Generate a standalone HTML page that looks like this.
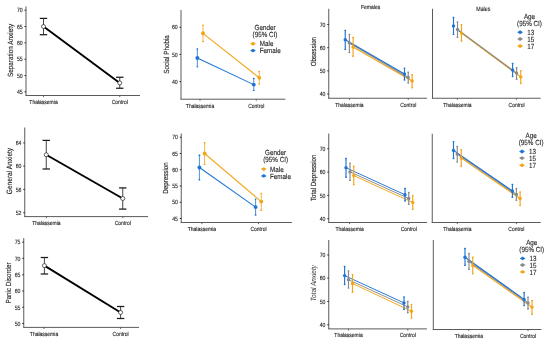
<!DOCTYPE html>
<html><head><meta charset="utf-8"><style>
html,body{margin:0;padding:0;background:#fff;}
body{width:550px;height:344px;overflow:hidden;}
svg{display:block;font-family:"Liberation Sans", sans-serif;filter:blur(0.3px);text-rendering:geometricPrecision;}
</style></head><body>
<svg width="550" height="344" viewBox="0 0 550 344">
<rect width="550" height="344" fill="#fff"/>
<line x1="26" y1="6.4" x2="26" y2="95.5" stroke="#484848" stroke-width="0.9"/>
<line x1="25.45" y1="95.5" x2="140" y2="95.5" stroke="#484848" stroke-width="0.9"/>
<line x1="24.5" y1="10.2" x2="26" y2="10.2" stroke="#111" stroke-width="0.9"/>
<text x="0" y="0" font-size="49.088" text-anchor="end" fill="#1e1e1e" stroke="#1e1e1e" stroke-width="1.040" transform="translate(22.70 12.41) scale(0.10593 0.12500)">70</text>
<line x1="24.5" y1="26.5" x2="26" y2="26.5" stroke="#111" stroke-width="0.9"/>
<text x="0" y="0" font-size="49.088" text-anchor="end" fill="#1e1e1e" stroke="#1e1e1e" stroke-width="1.040" transform="translate(22.70 28.71) scale(0.10593 0.12500)">65</text>
<line x1="24.5" y1="42.8" x2="26" y2="42.8" stroke="#111" stroke-width="0.9"/>
<text x="0" y="0" font-size="49.088" text-anchor="end" fill="#1e1e1e" stroke="#1e1e1e" stroke-width="1.040" transform="translate(22.70 45.01) scale(0.10593 0.12500)">60</text>
<line x1="24.5" y1="59.2" x2="26" y2="59.2" stroke="#111" stroke-width="0.9"/>
<text x="0" y="0" font-size="49.088" text-anchor="end" fill="#1e1e1e" stroke="#1e1e1e" stroke-width="1.040" transform="translate(22.70 61.41) scale(0.10593 0.12500)">55</text>
<line x1="24.5" y1="75.5" x2="26" y2="75.5" stroke="#111" stroke-width="0.9"/>
<text x="0" y="0" font-size="49.088" text-anchor="end" fill="#1e1e1e" stroke="#1e1e1e" stroke-width="1.040" transform="translate(22.70 77.71) scale(0.10593 0.12500)">50</text>
<line x1="24.5" y1="91.8" x2="26" y2="91.8" stroke="#111" stroke-width="0.9"/>
<text x="0" y="0" font-size="49.088" text-anchor="end" fill="#1e1e1e" stroke="#1e1e1e" stroke-width="1.040" transform="translate(22.70 94.01) scale(0.10593 0.12500)">45</text>
<line x1="43.5" y1="95.5" x2="43.5" y2="97.1" stroke="#484848" stroke-width="0.8"/>
<text x="0" y="0" font-size="47.200" text-anchor="middle" fill="#1e1e1e" stroke="#1e1e1e" stroke-width="1.040" transform="translate(43.50 103.92) scale(0.10593 0.12500)">Thalassemia</text>
<line x1="119.75" y1="95.5" x2="119.75" y2="97.1" stroke="#484848" stroke-width="0.8"/>
<text x="0" y="0" font-size="47.200" text-anchor="middle" fill="#1e1e1e" stroke="#1e1e1e" stroke-width="1.040" transform="translate(119.75 103.92) scale(0.10593 0.12500)">Control</text>
<text x="0" y="0" font-size="60.416" text-anchor="middle" fill="#1e1e1e" stroke="#1e1e1e" stroke-width="1.040" transform="translate(13.09 50.40) rotate(-90) scale(0.10593 0.12500)">Separation Anxiety</text>
<line x1="43.5" y1="26.5" x2="119.75" y2="82.9" stroke="#000" stroke-width="1.9"/>
<line x1="43.5" y1="18.4" x2="43.5" y2="34.7" stroke="#222" stroke-width="0.85"/>
<line x1="39.8" y1="18.4" x2="47.2" y2="18.4" stroke="#1a1a1a" stroke-width="1.25"/>
<line x1="39.8" y1="34.7" x2="47.2" y2="34.7" stroke="#1a1a1a" stroke-width="1.25"/>
<circle cx="43.5" cy="26.5" r="2.0" fill="#fff" stroke="#222" stroke-width="0.7"/>
<line x1="119.75" y1="77.25" x2="119.75" y2="88.25" stroke="#222" stroke-width="0.85"/>
<line x1="116.05" y1="77.25" x2="123.45" y2="77.25" stroke="#1a1a1a" stroke-width="1.25"/>
<line x1="116.05" y1="88.25" x2="123.45" y2="88.25" stroke="#1a1a1a" stroke-width="1.25"/>
<circle cx="119.75" cy="82.9" r="2.0" fill="#fff" stroke="#222" stroke-width="0.7"/>
<line x1="181" y1="10" x2="181" y2="99.2" stroke="#484848" stroke-width="0.9"/>
<line x1="180.45" y1="99.2" x2="285.4" y2="99.2" stroke="#484848" stroke-width="0.9"/>
<line x1="179.5" y1="27.25" x2="181" y2="27.25" stroke="#111" stroke-width="0.9"/>
<text x="0" y="0" font-size="49.088" text-anchor="end" fill="#1e1e1e" stroke="#1e1e1e" stroke-width="1.040" transform="translate(177.70 29.46) scale(0.10593 0.12500)">60</text>
<line x1="179.5" y1="54.4" x2="181" y2="54.4" stroke="#111" stroke-width="0.9"/>
<text x="0" y="0" font-size="49.088" text-anchor="end" fill="#1e1e1e" stroke="#1e1e1e" stroke-width="1.040" transform="translate(177.70 56.61) scale(0.10593 0.12500)">50</text>
<line x1="179.5" y1="81.6" x2="181" y2="81.6" stroke="#111" stroke-width="0.9"/>
<text x="0" y="0" font-size="49.088" text-anchor="end" fill="#1e1e1e" stroke="#1e1e1e" stroke-width="1.040" transform="translate(177.70 83.81) scale(0.10593 0.12500)">40</text>
<line x1="200" y1="99.2" x2="200" y2="100.8" stroke="#484848" stroke-width="0.8"/>
<text x="0" y="0" font-size="47.200" text-anchor="middle" fill="#1e1e1e" stroke="#1e1e1e" stroke-width="1.040" transform="translate(200.00 107.62) scale(0.10593 0.12500)">Thalassemia</text>
<line x1="256.25" y1="99.2" x2="256.25" y2="100.8" stroke="#484848" stroke-width="0.8"/>
<text x="0" y="0" font-size="47.200" text-anchor="middle" fill="#1e1e1e" stroke="#1e1e1e" stroke-width="1.040" transform="translate(256.25 107.62) scale(0.10593 0.12500)">Control</text>
<text x="0" y="0" font-size="59.472" text-anchor="middle" fill="#1e1e1e" stroke="#1e1e1e" stroke-width="1.040" transform="translate(168.85 54.40) rotate(-90) scale(0.10593 0.12500)">Social Phobia</text>
<line x1="197.35" y1="58" x2="253.75" y2="84.6" stroke="#1f74d4" stroke-width="1.05"/>
<line x1="203" y1="33.3" x2="259.25" y2="77.75" stroke="#f2a516" stroke-width="1.05"/>
<line x1="197.35" y1="49" x2="197.35" y2="66.8" stroke="#1f74d4" stroke-width="0.8"/>
<line x1="197.04999999999998" y1="49" x2="197.65" y2="49" stroke="#1f74d4" stroke-width="1.3" stroke-linecap="round"/>
<line x1="197.04999999999998" y1="66.8" x2="197.65" y2="66.8" stroke="#1f74d4" stroke-width="1.3" stroke-linecap="round"/>
<circle cx="197.35" cy="58" r="1.95" fill="#1f74d4"/>
<line x1="253.75" y1="78.5" x2="253.75" y2="90.4" stroke="#1f74d4" stroke-width="0.8"/>
<line x1="253.45" y1="78.5" x2="254.05" y2="78.5" stroke="#1f74d4" stroke-width="1.3" stroke-linecap="round"/>
<line x1="253.45" y1="90.4" x2="254.05" y2="90.4" stroke="#1f74d4" stroke-width="1.3" stroke-linecap="round"/>
<circle cx="253.75" cy="84.6" r="1.95" fill="#1f74d4"/>
<line x1="203" y1="25.2" x2="203" y2="41.5" stroke="#f2a516" stroke-width="0.8"/>
<line x1="202.7" y1="25.2" x2="203.3" y2="25.2" stroke="#f2a516" stroke-width="1.3" stroke-linecap="round"/>
<line x1="202.7" y1="41.5" x2="203.3" y2="41.5" stroke="#f2a516" stroke-width="1.3" stroke-linecap="round"/>
<circle cx="203" cy="33.3" r="1.95" fill="#f2a516"/>
<line x1="259.25" y1="71.5" x2="259.25" y2="84.1" stroke="#f2a516" stroke-width="0.8"/>
<line x1="258.95" y1="71.5" x2="259.55" y2="71.5" stroke="#f2a516" stroke-width="1.3" stroke-linecap="round"/>
<line x1="258.95" y1="84.1" x2="259.55" y2="84.1" stroke="#f2a516" stroke-width="1.3" stroke-linecap="round"/>
<circle cx="259.25" cy="77.75" r="1.95" fill="#f2a516"/>
<text x="0" y="0" font-size="59.472" text-anchor="middle" fill="#1e1e1e" stroke="#1e1e1e" stroke-width="1.040" transform="translate(265.00 29.58) scale(0.10593 0.12500)">Gender</text>
<text x="0" y="0" font-size="59.472" text-anchor="middle" fill="#1e1e1e" stroke="#1e1e1e" stroke-width="1.040" transform="translate(265.00 36.68) scale(0.10593 0.12500)">(95% CI)</text>
<path d="M250.1 43.75 L253 41.85 L255.9 43.75 L253 45.65 Z" fill="#f2a516"/>
<text x="0" y="0" font-size="59.472" text-anchor="start" fill="#1e1e1e" stroke="#1e1e1e" stroke-width="1.040" transform="translate(259.75 46.43) scale(0.10593 0.12500)">Male</text>
<path d="M250.1 50.6 L253 48.7 L255.9 50.6 L253 52.5 Z" fill="#1f74d4"/>
<text x="0" y="0" font-size="59.472" text-anchor="start" fill="#1e1e1e" stroke="#1e1e1e" stroke-width="1.040" transform="translate(259.75 53.28) scale(0.10593 0.12500)">Female</text>
<line x1="328.75" y1="8.75" x2="328.75" y2="98.25" stroke="#484848" stroke-width="0.9"/>
<line x1="328.2" y1="98.25" x2="426.9" y2="98.25" stroke="#484848" stroke-width="0.9"/>
<line x1="327.25" y1="24.5" x2="328.75" y2="24.5" stroke="#111" stroke-width="0.9"/>
<text x="0" y="0" font-size="49.088" text-anchor="end" fill="#1e1e1e" stroke="#1e1e1e" stroke-width="1.040" transform="translate(325.45 26.71) scale(0.10593 0.12500)">70</text>
<line x1="327.25" y1="47.7" x2="328.75" y2="47.7" stroke="#111" stroke-width="0.9"/>
<text x="0" y="0" font-size="49.088" text-anchor="end" fill="#1e1e1e" stroke="#1e1e1e" stroke-width="1.040" transform="translate(325.45 49.91) scale(0.10593 0.12500)">60</text>
<line x1="327.25" y1="70.9" x2="328.75" y2="70.9" stroke="#111" stroke-width="0.9"/>
<text x="0" y="0" font-size="49.088" text-anchor="end" fill="#1e1e1e" stroke="#1e1e1e" stroke-width="1.040" transform="translate(325.45 73.11) scale(0.10593 0.12500)">50</text>
<line x1="327.25" y1="94.1" x2="328.75" y2="94.1" stroke="#111" stroke-width="0.9"/>
<text x="0" y="0" font-size="49.088" text-anchor="end" fill="#1e1e1e" stroke="#1e1e1e" stroke-width="1.040" transform="translate(325.45 96.31) scale(0.10593 0.12500)">40</text>
<line x1="349.4" y1="98.25" x2="349.4" y2="99.85" stroke="#484848" stroke-width="0.8"/>
<text x="0" y="0" font-size="47.200" text-anchor="middle" fill="#1e1e1e" stroke="#1e1e1e" stroke-width="1.040" transform="translate(349.40 106.67) scale(0.10593 0.12500)">Thalassemia</text>
<line x1="408.25" y1="98.25" x2="408.25" y2="99.85" stroke="#484848" stroke-width="0.8"/>
<text x="0" y="0" font-size="47.200" text-anchor="middle" fill="#1e1e1e" stroke="#1e1e1e" stroke-width="1.040" transform="translate(408.25 106.67) scale(0.10593 0.12500)">Control</text>
<text x="0" y="0" font-size="58.528" text-anchor="middle" fill="#1e1e1e" stroke="#1e1e1e" stroke-width="1.040" transform="translate(315.61 51.60) rotate(-90) scale(0.10593 0.12500)">Obsession</text>
<line x1="353.1" y1="46.9" x2="412.1" y2="81" stroke="#f2a516" stroke-width="1.15"/>
<line x1="349.4" y1="43.1" x2="408.25" y2="77.5" stroke="#8a8a8a" stroke-width="1.15"/>
<line x1="345.25" y1="39.75" x2="404.5" y2="74" stroke="#1f74d4" stroke-width="1.15"/>
<line x1="353.1" y1="37.5" x2="353.1" y2="56.25" stroke="#f2a516" stroke-width="1.15"/>
<line x1="352.8" y1="37.5" x2="353.40000000000003" y2="37.5" stroke="#f2a516" stroke-width="1.3" stroke-linecap="round"/>
<line x1="352.8" y1="56.25" x2="353.40000000000003" y2="56.25" stroke="#f2a516" stroke-width="1.3" stroke-linecap="round"/>
<circle cx="353.1" cy="46.9" r="1.7" fill="#f2a516"/>
<line x1="412.1" y1="74.6" x2="412.1" y2="87.75" stroke="#f2a516" stroke-width="1.15"/>
<line x1="411.8" y1="74.6" x2="412.40000000000003" y2="74.6" stroke="#f2a516" stroke-width="1.3" stroke-linecap="round"/>
<line x1="411.8" y1="87.75" x2="412.40000000000003" y2="87.75" stroke="#f2a516" stroke-width="1.3" stroke-linecap="round"/>
<circle cx="412.1" cy="81" r="1.7" fill="#f2a516"/>
<line x1="349.4" y1="34.4" x2="349.4" y2="52.5" stroke="#8a8a8a" stroke-width="1.15"/>
<line x1="349.09999999999997" y1="34.4" x2="349.7" y2="34.4" stroke="#8a8a8a" stroke-width="1.3" stroke-linecap="round"/>
<line x1="349.09999999999997" y1="52.5" x2="349.7" y2="52.5" stroke="#8a8a8a" stroke-width="1.3" stroke-linecap="round"/>
<circle cx="349.4" cy="43.1" r="1.7" fill="#8a8a8a"/>
<line x1="408.25" y1="72.25" x2="408.25" y2="83.1" stroke="#8a8a8a" stroke-width="1.15"/>
<line x1="407.95" y1="72.25" x2="408.55" y2="72.25" stroke="#8a8a8a" stroke-width="1.3" stroke-linecap="round"/>
<line x1="407.95" y1="83.1" x2="408.55" y2="83.1" stroke="#8a8a8a" stroke-width="1.3" stroke-linecap="round"/>
<circle cx="408.25" cy="77.5" r="1.7" fill="#8a8a8a"/>
<line x1="345.25" y1="30.4" x2="345.25" y2="49.4" stroke="#1f74d4" stroke-width="1.15"/>
<line x1="344.95" y1="30.4" x2="345.55" y2="30.4" stroke="#1f74d4" stroke-width="1.3" stroke-linecap="round"/>
<line x1="344.95" y1="49.4" x2="345.55" y2="49.4" stroke="#1f74d4" stroke-width="1.3" stroke-linecap="round"/>
<circle cx="345.25" cy="39.75" r="1.7" fill="#1f74d4"/>
<line x1="404.5" y1="68.1" x2="404.5" y2="80" stroke="#1f74d4" stroke-width="1.15"/>
<line x1="404.2" y1="68.1" x2="404.8" y2="68.1" stroke="#1f74d4" stroke-width="1.3" stroke-linecap="round"/>
<line x1="404.2" y1="80" x2="404.8" y2="80" stroke="#1f74d4" stroke-width="1.3" stroke-linecap="round"/>
<circle cx="404.5" cy="74" r="1.7" fill="#1f74d4"/>
<text x="0" y="0" font-size="47.200" text-anchor="middle" fill="#1e1e1e" stroke="#1e1e1e" stroke-width="1.040" transform="translate(370.60 9.22) scale(0.10593 0.12500)">Females</text>
<line x1="432.5" y1="8.75" x2="432.5" y2="98.25" stroke="#484848" stroke-width="0.9"/>
<line x1="431.95" y1="98.25" x2="540.6" y2="98.25" stroke="#484848" stroke-width="0.9"/>
<line x1="457.4" y1="98.25" x2="457.4" y2="99.85" stroke="#484848" stroke-width="0.8"/>
<text x="0" y="0" font-size="47.200" text-anchor="middle" fill="#1e1e1e" stroke="#1e1e1e" stroke-width="1.040" transform="translate(457.40 106.67) scale(0.10593 0.12500)">Thalassemia</text>
<line x1="516.6" y1="98.25" x2="516.6" y2="99.85" stroke="#484848" stroke-width="0.8"/>
<text x="0" y="0" font-size="47.200" text-anchor="middle" fill="#1e1e1e" stroke="#1e1e1e" stroke-width="1.040" transform="translate(516.60 106.67) scale(0.10593 0.12500)">Control</text>
<line x1="457.5" y1="30" x2="516.6" y2="73.7" stroke="#1f74d4" stroke-width="1"/>
<line x1="461.5" y1="33.1" x2="520.75" y2="76.9" stroke="#f2a516" stroke-width="1.15"/>
<line x1="457.5" y1="29.4" x2="516.6" y2="73.1" stroke="#8a8a8a" stroke-width="1.15"/>
<line x1="453.5" y1="17.5" x2="453.5" y2="34.4" stroke="#1f74d4" stroke-width="1.15"/>
<line x1="453.2" y1="17.5" x2="453.8" y2="17.5" stroke="#1f74d4" stroke-width="1.3" stroke-linecap="round"/>
<line x1="453.2" y1="34.4" x2="453.8" y2="34.4" stroke="#1f74d4" stroke-width="1.3" stroke-linecap="round"/>
<circle cx="453.5" cy="26" r="1.7" fill="#1f74d4"/>
<line x1="512.6" y1="63.5" x2="512.6" y2="76.6" stroke="#1f74d4" stroke-width="1.15"/>
<line x1="512.3000000000001" y1="63.5" x2="512.9" y2="63.5" stroke="#1f74d4" stroke-width="1.3" stroke-linecap="round"/>
<line x1="512.3000000000001" y1="76.6" x2="512.9" y2="76.6" stroke="#1f74d4" stroke-width="1.3" stroke-linecap="round"/>
<circle cx="512.6" cy="70" r="1.7" fill="#1f74d4"/>
<line x1="461.5" y1="24.75" x2="461.5" y2="41" stroke="#f2a516" stroke-width="1.15"/>
<line x1="461.2" y1="24.75" x2="461.8" y2="24.75" stroke="#f2a516" stroke-width="1.3" stroke-linecap="round"/>
<line x1="461.2" y1="41" x2="461.8" y2="41" stroke="#f2a516" stroke-width="1.3" stroke-linecap="round"/>
<circle cx="461.5" cy="33.1" r="1.7" fill="#f2a516"/>
<line x1="520.75" y1="70.6" x2="520.75" y2="83.5" stroke="#f2a516" stroke-width="1.15"/>
<line x1="520.45" y1="70.6" x2="521.05" y2="70.6" stroke="#f2a516" stroke-width="1.3" stroke-linecap="round"/>
<line x1="520.45" y1="83.5" x2="521.05" y2="83.5" stroke="#f2a516" stroke-width="1.3" stroke-linecap="round"/>
<circle cx="520.75" cy="76.9" r="1.7" fill="#f2a516"/>
<line x1="457.5" y1="21.9" x2="457.5" y2="37.25" stroke="#8a8a8a" stroke-width="1.15"/>
<line x1="457.2" y1="21.9" x2="457.8" y2="21.9" stroke="#8a8a8a" stroke-width="1.3" stroke-linecap="round"/>
<line x1="457.2" y1="37.25" x2="457.8" y2="37.25" stroke="#8a8a8a" stroke-width="1.3" stroke-linecap="round"/>
<circle cx="457.5" cy="29.4" r="1.7" fill="#8a8a8a"/>
<line x1="516.6" y1="67.75" x2="516.6" y2="79.4" stroke="#8a8a8a" stroke-width="1.15"/>
<line x1="516.3000000000001" y1="67.75" x2="516.9" y2="67.75" stroke="#8a8a8a" stroke-width="1.3" stroke-linecap="round"/>
<line x1="516.3000000000001" y1="79.4" x2="516.9" y2="79.4" stroke="#8a8a8a" stroke-width="1.3" stroke-linecap="round"/>
<circle cx="516.6" cy="73.1" r="1.7" fill="#8a8a8a"/>
<text x="0" y="0" font-size="50.032" text-anchor="middle" fill="#1e1e1e" stroke="#1e1e1e" stroke-width="1.040" transform="translate(483.30 11.25) scale(0.10593 0.12500)">Males</text>
<text x="0" y="0" font-size="59.472" text-anchor="middle" fill="#1e1e1e" stroke="#1e1e1e" stroke-width="1.040" transform="translate(529.50 18.58) scale(0.10593 0.12500)">Age</text>
<text x="0" y="0" font-size="59.472" text-anchor="middle" fill="#1e1e1e" stroke="#1e1e1e" stroke-width="1.040" transform="translate(529.50 25.78) scale(0.10593 0.12500)">(95% CI)</text>
<path d="M517.2 32.25 L520.1 30.35 L523.0 32.25 L520.1 34.15 Z" fill="#1f74d4"/>
<text x="0" y="0" font-size="59.472" text-anchor="start" fill="#1e1e1e" stroke="#1e1e1e" stroke-width="1.040" transform="translate(527.25 34.93) scale(0.10593 0.12500)">13</text>
<path d="M517.2 39 L520.1 37.1 L523.0 39 L520.1 40.9 Z" fill="#8a8a8a"/>
<text x="0" y="0" font-size="59.472" text-anchor="start" fill="#1e1e1e" stroke="#1e1e1e" stroke-width="1.040" transform="translate(527.25 41.68) scale(0.10593 0.12500)">15</text>
<path d="M517.2 46 L520.1 44.1 L523.0 46 L520.1 47.9 Z" fill="#f2a516"/>
<text x="0" y="0" font-size="59.472" text-anchor="start" fill="#1e1e1e" stroke="#1e1e1e" stroke-width="1.040" transform="translate(527.25 48.68) scale(0.10593 0.12500)">17</text>
<line x1="24.75" y1="127.5" x2="24.75" y2="216.6" stroke="#484848" stroke-width="0.9"/>
<line x1="24.2" y1="216.6" x2="148.1" y2="216.6" stroke="#484848" stroke-width="0.9"/>
<line x1="23.25" y1="142.9" x2="24.75" y2="142.9" stroke="#111" stroke-width="0.9"/>
<text x="0" y="0" font-size="49.088" text-anchor="end" fill="#1e1e1e" stroke="#1e1e1e" stroke-width="1.040" transform="translate(21.45 145.11) scale(0.10593 0.12500)">64</text>
<line x1="23.25" y1="166.1" x2="24.75" y2="166.1" stroke="#111" stroke-width="0.9"/>
<text x="0" y="0" font-size="49.088" text-anchor="end" fill="#1e1e1e" stroke="#1e1e1e" stroke-width="1.040" transform="translate(21.45 168.31) scale(0.10593 0.12500)">60</text>
<line x1="23.25" y1="189.4" x2="24.75" y2="189.4" stroke="#111" stroke-width="0.9"/>
<text x="0" y="0" font-size="49.088" text-anchor="end" fill="#1e1e1e" stroke="#1e1e1e" stroke-width="1.040" transform="translate(21.45 191.61) scale(0.10593 0.12500)">56</text>
<line x1="23.25" y1="212.7" x2="24.75" y2="212.7" stroke="#111" stroke-width="0.9"/>
<text x="0" y="0" font-size="49.088" text-anchor="end" fill="#1e1e1e" stroke="#1e1e1e" stroke-width="1.040" transform="translate(21.45 214.91) scale(0.10593 0.12500)">52</text>
<line x1="46.4" y1="216.6" x2="46.4" y2="218.2" stroke="#484848" stroke-width="0.8"/>
<text x="0" y="0" font-size="47.200" text-anchor="middle" fill="#1e1e1e" stroke="#1e1e1e" stroke-width="1.040" transform="translate(46.40 225.02) scale(0.10593 0.12500)">Thalassemia</text>
<line x1="122.75" y1="216.6" x2="122.75" y2="218.2" stroke="#484848" stroke-width="0.8"/>
<text x="0" y="0" font-size="47.200" text-anchor="middle" fill="#1e1e1e" stroke="#1e1e1e" stroke-width="1.040" transform="translate(122.75 225.02) scale(0.10593 0.12500)">Control</text>
<text x="0" y="0" font-size="61.926" text-anchor="middle" fill="#1e1e1e" stroke="#1e1e1e" stroke-width="1.040" transform="translate(12.15 171.00) rotate(-90) scale(0.10593 0.12500)">General Anxiety</text>
<line x1="46.25" y1="154.75" x2="122.75" y2="198.5" stroke="#000" stroke-width="1.9"/>
<line x1="46.25" y1="140.4" x2="46.25" y2="169" stroke="#222" stroke-width="0.85"/>
<line x1="42.55" y1="140.4" x2="49.95" y2="140.4" stroke="#1a1a1a" stroke-width="1.25"/>
<line x1="42.55" y1="169" x2="49.95" y2="169" stroke="#1a1a1a" stroke-width="1.25"/>
<circle cx="46.25" cy="154.75" r="2.0" fill="#fff" stroke="#222" stroke-width="0.7"/>
<line x1="122.75" y1="187.9" x2="122.75" y2="209.1" stroke="#222" stroke-width="0.85"/>
<line x1="119.05" y1="187.9" x2="126.45" y2="187.9" stroke="#1a1a1a" stroke-width="1.25"/>
<line x1="119.05" y1="209.1" x2="126.45" y2="209.1" stroke="#1a1a1a" stroke-width="1.25"/>
<circle cx="122.75" cy="198.5" r="2.0" fill="#fff" stroke="#222" stroke-width="0.7"/>
<line x1="181.25" y1="133.5" x2="181.25" y2="222.5" stroke="#484848" stroke-width="0.9"/>
<line x1="180.7" y1="222.5" x2="291.9" y2="222.5" stroke="#484848" stroke-width="0.9"/>
<line x1="179.75" y1="137.25" x2="181.25" y2="137.25" stroke="#111" stroke-width="0.9"/>
<text x="0" y="0" font-size="49.088" text-anchor="end" fill="#1e1e1e" stroke="#1e1e1e" stroke-width="1.040" transform="translate(177.95 139.46) scale(0.10593 0.12500)">70</text>
<line x1="179.75" y1="153.5" x2="181.25" y2="153.5" stroke="#111" stroke-width="0.9"/>
<text x="0" y="0" font-size="49.088" text-anchor="end" fill="#1e1e1e" stroke="#1e1e1e" stroke-width="1.040" transform="translate(177.95 155.71) scale(0.10593 0.12500)">65</text>
<line x1="179.75" y1="169.75" x2="181.25" y2="169.75" stroke="#111" stroke-width="0.9"/>
<text x="0" y="0" font-size="49.088" text-anchor="end" fill="#1e1e1e" stroke="#1e1e1e" stroke-width="1.040" transform="translate(177.95 171.96) scale(0.10593 0.12500)">60</text>
<line x1="179.75" y1="186" x2="181.25" y2="186" stroke="#111" stroke-width="0.9"/>
<text x="0" y="0" font-size="49.088" text-anchor="end" fill="#1e1e1e" stroke="#1e1e1e" stroke-width="1.040" transform="translate(177.95 188.21) scale(0.10593 0.12500)">55</text>
<line x1="179.75" y1="202.25" x2="181.25" y2="202.25" stroke="#111" stroke-width="0.9"/>
<text x="0" y="0" font-size="49.088" text-anchor="end" fill="#1e1e1e" stroke="#1e1e1e" stroke-width="1.040" transform="translate(177.95 204.46) scale(0.10593 0.12500)">50</text>
<line x1="179.75" y1="218.5" x2="181.25" y2="218.5" stroke="#111" stroke-width="0.9"/>
<text x="0" y="0" font-size="49.088" text-anchor="end" fill="#1e1e1e" stroke="#1e1e1e" stroke-width="1.040" transform="translate(177.95 220.71) scale(0.10593 0.12500)">45</text>
<line x1="201.9" y1="222.5" x2="201.9" y2="224.1" stroke="#484848" stroke-width="0.8"/>
<text x="0" y="0" font-size="47.200" text-anchor="middle" fill="#1e1e1e" stroke="#1e1e1e" stroke-width="1.040" transform="translate(201.90 230.92) scale(0.10593 0.12500)">Thalassemia</text>
<line x1="258.5" y1="222.5" x2="258.5" y2="224.1" stroke="#484848" stroke-width="0.8"/>
<text x="0" y="0" font-size="47.200" text-anchor="middle" fill="#1e1e1e" stroke="#1e1e1e" stroke-width="1.040" transform="translate(258.50 230.92) scale(0.10593 0.12500)">Control</text>
<text x="0" y="0" font-size="58.528" text-anchor="middle" fill="#1e1e1e" stroke="#1e1e1e" stroke-width="1.040" transform="translate(168.11 178.00) rotate(-90) scale(0.10593 0.12500)">Depression</text>
<line x1="199.4" y1="167.5" x2="255.6" y2="207.1" stroke="#1f74d4" stroke-width="1.05"/>
<line x1="204.6" y1="153.5" x2="261.25" y2="201.6" stroke="#f2a516" stroke-width="1.05"/>
<line x1="199.4" y1="155.25" x2="199.4" y2="179.75" stroke="#1f74d4" stroke-width="0.8"/>
<line x1="199.1" y1="155.25" x2="199.70000000000002" y2="155.25" stroke="#1f74d4" stroke-width="1.3" stroke-linecap="round"/>
<line x1="199.1" y1="179.75" x2="199.70000000000002" y2="179.75" stroke="#1f74d4" stroke-width="1.3" stroke-linecap="round"/>
<circle cx="199.4" cy="167.5" r="1.95" fill="#1f74d4"/>
<line x1="255.6" y1="199.1" x2="255.6" y2="215" stroke="#1f74d4" stroke-width="0.8"/>
<line x1="255.29999999999998" y1="199.1" x2="255.9" y2="199.1" stroke="#1f74d4" stroke-width="1.3" stroke-linecap="round"/>
<line x1="255.29999999999998" y1="215" x2="255.9" y2="215" stroke="#1f74d4" stroke-width="1.3" stroke-linecap="round"/>
<circle cx="255.6" cy="207.1" r="1.95" fill="#1f74d4"/>
<line x1="204.6" y1="142.75" x2="204.6" y2="164.4" stroke="#f2a516" stroke-width="0.8"/>
<line x1="204.29999999999998" y1="142.75" x2="204.9" y2="142.75" stroke="#f2a516" stroke-width="1.3" stroke-linecap="round"/>
<line x1="204.29999999999998" y1="164.4" x2="204.9" y2="164.4" stroke="#f2a516" stroke-width="1.3" stroke-linecap="round"/>
<circle cx="204.6" cy="153.5" r="1.95" fill="#f2a516"/>
<line x1="261.25" y1="193.5" x2="261.25" y2="210.4" stroke="#f2a516" stroke-width="0.8"/>
<line x1="260.95" y1="193.5" x2="261.55" y2="193.5" stroke="#f2a516" stroke-width="1.3" stroke-linecap="round"/>
<line x1="260.95" y1="210.4" x2="261.55" y2="210.4" stroke="#f2a516" stroke-width="1.3" stroke-linecap="round"/>
<circle cx="261.25" cy="201.6" r="1.95" fill="#f2a516"/>
<text x="0" y="0" font-size="59.472" text-anchor="middle" fill="#1e1e1e" stroke="#1e1e1e" stroke-width="1.040" transform="translate(275.60 154.58) scale(0.10593 0.12500)">Gender</text>
<text x="0" y="0" font-size="59.472" text-anchor="middle" fill="#1e1e1e" stroke="#1e1e1e" stroke-width="1.040" transform="translate(275.60 161.68) scale(0.10593 0.12500)">(95% CI)</text>
<path d="M260.85 169.1 L263.75 167.2 L266.65 169.1 L263.75 171.0 Z" fill="#f2a516"/>
<text x="0" y="0" font-size="59.472" text-anchor="start" fill="#1e1e1e" stroke="#1e1e1e" stroke-width="1.040" transform="translate(270.00 171.78) scale(0.10593 0.12500)">Male</text>
<path d="M260.85 175.9 L263.75 174.0 L266.65 175.9 L263.75 177.8 Z" fill="#1f74d4"/>
<text x="0" y="0" font-size="59.472" text-anchor="start" fill="#1e1e1e" stroke="#1e1e1e" stroke-width="1.040" transform="translate(270.00 178.58) scale(0.10593 0.12500)">Female</text>
<line x1="328.75" y1="133.5" x2="328.75" y2="222.5" stroke="#484848" stroke-width="0.9"/>
<line x1="328.2" y1="222.5" x2="427" y2="222.5" stroke="#484848" stroke-width="0.9"/>
<line x1="327.25" y1="148.75" x2="328.75" y2="148.75" stroke="#111" stroke-width="0.9"/>
<text x="0" y="0" font-size="49.088" text-anchor="end" fill="#1e1e1e" stroke="#1e1e1e" stroke-width="1.040" transform="translate(325.45 150.96) scale(0.10593 0.12500)">70</text>
<line x1="327.25" y1="172.1" x2="328.75" y2="172.1" stroke="#111" stroke-width="0.9"/>
<text x="0" y="0" font-size="49.088" text-anchor="end" fill="#1e1e1e" stroke="#1e1e1e" stroke-width="1.040" transform="translate(325.45 174.31) scale(0.10593 0.12500)">60</text>
<line x1="327.25" y1="195.4" x2="328.75" y2="195.4" stroke="#111" stroke-width="0.9"/>
<text x="0" y="0" font-size="49.088" text-anchor="end" fill="#1e1e1e" stroke="#1e1e1e" stroke-width="1.040" transform="translate(325.45 197.61) scale(0.10593 0.12500)">50</text>
<line x1="327.25" y1="218.75" x2="328.75" y2="218.75" stroke="#111" stroke-width="0.9"/>
<text x="0" y="0" font-size="49.088" text-anchor="end" fill="#1e1e1e" stroke="#1e1e1e" stroke-width="1.040" transform="translate(325.45 220.96) scale(0.10593 0.12500)">40</text>
<line x1="349.6" y1="222.5" x2="349.6" y2="224.1" stroke="#484848" stroke-width="0.8"/>
<text x="0" y="0" font-size="47.200" text-anchor="middle" fill="#1e1e1e" stroke="#1e1e1e" stroke-width="1.040" transform="translate(349.60 230.92) scale(0.10593 0.12500)">Thalassemia</text>
<line x1="408.75" y1="222.5" x2="408.75" y2="224.1" stroke="#484848" stroke-width="0.8"/>
<text x="0" y="0" font-size="47.200" text-anchor="middle" fill="#1e1e1e" stroke="#1e1e1e" stroke-width="1.040" transform="translate(408.75 230.92) scale(0.10593 0.12500)">Control</text>
<text x="0" y="0" font-size="59.094" text-anchor="middle" fill="#1e1e1e" stroke="#1e1e1e" stroke-width="1.040" transform="translate(315.54 177.80) rotate(-90) scale(0.10593 0.12500)">Total Depression</text>
<line x1="353.75" y1="175.6" x2="412.75" y2="202.5" stroke="#f2a516" stroke-width="0.95"/>
<line x1="350" y1="171.9" x2="408.75" y2="198.5" stroke="#8a8a8a" stroke-width="0.95"/>
<line x1="346" y1="167.75" x2="405" y2="194.75" stroke="#1f74d4" stroke-width="0.95"/>
<line x1="353.75" y1="166.25" x2="353.75" y2="184.6" stroke="#f2a516" stroke-width="1.15"/>
<line x1="353.45" y1="166.25" x2="354.05" y2="166.25" stroke="#f2a516" stroke-width="1.3" stroke-linecap="round"/>
<line x1="353.45" y1="184.6" x2="354.05" y2="184.6" stroke="#f2a516" stroke-width="1.3" stroke-linecap="round"/>
<circle cx="353.75" cy="175.6" r="1.7" fill="#f2a516"/>
<line x1="412.75" y1="195.6" x2="412.75" y2="209.4" stroke="#f2a516" stroke-width="1.15"/>
<line x1="412.45" y1="195.6" x2="413.05" y2="195.6" stroke="#f2a516" stroke-width="1.3" stroke-linecap="round"/>
<line x1="412.45" y1="209.4" x2="413.05" y2="209.4" stroke="#f2a516" stroke-width="1.3" stroke-linecap="round"/>
<circle cx="412.75" cy="202.5" r="1.7" fill="#f2a516"/>
<line x1="350" y1="163.1" x2="350" y2="180.4" stroke="#8a8a8a" stroke-width="1.15"/>
<line x1="349.7" y1="163.1" x2="350.3" y2="163.1" stroke="#8a8a8a" stroke-width="1.3" stroke-linecap="round"/>
<line x1="349.7" y1="180.4" x2="350.3" y2="180.4" stroke="#8a8a8a" stroke-width="1.3" stroke-linecap="round"/>
<circle cx="350" cy="171.9" r="1.7" fill="#8a8a8a"/>
<line x1="408.75" y1="192.5" x2="408.75" y2="204.4" stroke="#8a8a8a" stroke-width="1.15"/>
<line x1="408.45" y1="192.5" x2="409.05" y2="192.5" stroke="#8a8a8a" stroke-width="1.3" stroke-linecap="round"/>
<line x1="408.45" y1="204.4" x2="409.05" y2="204.4" stroke="#8a8a8a" stroke-width="1.3" stroke-linecap="round"/>
<circle cx="408.75" cy="198.5" r="1.7" fill="#8a8a8a"/>
<line x1="346" y1="158.5" x2="346" y2="177.25" stroke="#1f74d4" stroke-width="1.15"/>
<line x1="345.7" y1="158.5" x2="346.3" y2="158.5" stroke="#1f74d4" stroke-width="1.3" stroke-linecap="round"/>
<line x1="345.7" y1="177.25" x2="346.3" y2="177.25" stroke="#1f74d4" stroke-width="1.3" stroke-linecap="round"/>
<circle cx="346" cy="167.75" r="1.7" fill="#1f74d4"/>
<line x1="405" y1="188.5" x2="405" y2="201" stroke="#1f74d4" stroke-width="1.15"/>
<line x1="404.7" y1="188.5" x2="405.3" y2="188.5" stroke="#1f74d4" stroke-width="1.3" stroke-linecap="round"/>
<line x1="404.7" y1="201" x2="405.3" y2="201" stroke="#1f74d4" stroke-width="1.3" stroke-linecap="round"/>
<circle cx="405" cy="194.75" r="1.7" fill="#1f74d4"/>
<line x1="432.25" y1="133.75" x2="432.25" y2="222.5" stroke="#484848" stroke-width="0.9"/>
<line x1="431.7" y1="222.5" x2="540.75" y2="222.5" stroke="#484848" stroke-width="0.9"/>
<line x1="457.3" y1="222.5" x2="457.3" y2="224.1" stroke="#484848" stroke-width="0.8"/>
<text x="0" y="0" font-size="47.200" text-anchor="middle" fill="#1e1e1e" stroke="#1e1e1e" stroke-width="1.040" transform="translate(457.30 230.92) scale(0.10593 0.12500)">Thalassemia</text>
<line x1="516.4" y1="222.5" x2="516.4" y2="224.1" stroke="#484848" stroke-width="0.8"/>
<text x="0" y="0" font-size="47.200" text-anchor="middle" fill="#1e1e1e" stroke="#1e1e1e" stroke-width="1.040" transform="translate(516.40 230.92) scale(0.10593 0.12500)">Control</text>
<line x1="461.25" y1="158.1" x2="520.1" y2="198.5" stroke="#f2a516" stroke-width="1.15"/>
<line x1="457.25" y1="154.1" x2="516.4" y2="194.4" stroke="#8a8a8a" stroke-width="1.15"/>
<line x1="453.5" y1="150.4" x2="512.4" y2="191" stroke="#1f74d4" stroke-width="1.15"/>
<line x1="461.25" y1="149.75" x2="461.25" y2="166.25" stroke="#f2a516" stroke-width="1.15"/>
<line x1="460.95" y1="149.75" x2="461.55" y2="149.75" stroke="#f2a516" stroke-width="1.3" stroke-linecap="round"/>
<line x1="460.95" y1="166.25" x2="461.55" y2="166.25" stroke="#f2a516" stroke-width="1.3" stroke-linecap="round"/>
<circle cx="461.25" cy="158.1" r="1.7" fill="#f2a516"/>
<line x1="520.1" y1="191.9" x2="520.1" y2="205.4" stroke="#f2a516" stroke-width="1.15"/>
<line x1="519.8000000000001" y1="191.9" x2="520.4" y2="191.9" stroke="#f2a516" stroke-width="1.3" stroke-linecap="round"/>
<line x1="519.8000000000001" y1="205.4" x2="520.4" y2="205.4" stroke="#f2a516" stroke-width="1.3" stroke-linecap="round"/>
<circle cx="520.1" cy="198.5" r="1.7" fill="#f2a516"/>
<line x1="457.25" y1="146.5" x2="457.25" y2="162.1" stroke="#8a8a8a" stroke-width="1.15"/>
<line x1="456.95" y1="146.5" x2="457.55" y2="146.5" stroke="#8a8a8a" stroke-width="1.3" stroke-linecap="round"/>
<line x1="456.95" y1="162.1" x2="457.55" y2="162.1" stroke="#8a8a8a" stroke-width="1.3" stroke-linecap="round"/>
<circle cx="457.25" cy="154.1" r="1.7" fill="#8a8a8a"/>
<line x1="516.4" y1="188.5" x2="516.4" y2="200.25" stroke="#8a8a8a" stroke-width="1.15"/>
<line x1="516.1" y1="188.5" x2="516.6999999999999" y2="188.5" stroke="#8a8a8a" stroke-width="1.3" stroke-linecap="round"/>
<line x1="516.1" y1="200.25" x2="516.6999999999999" y2="200.25" stroke="#8a8a8a" stroke-width="1.3" stroke-linecap="round"/>
<circle cx="516.4" cy="194.4" r="1.7" fill="#8a8a8a"/>
<line x1="453.5" y1="141.6" x2="453.5" y2="158.5" stroke="#1f74d4" stroke-width="1.15"/>
<line x1="453.2" y1="141.6" x2="453.8" y2="141.6" stroke="#1f74d4" stroke-width="1.3" stroke-linecap="round"/>
<line x1="453.2" y1="158.5" x2="453.8" y2="158.5" stroke="#1f74d4" stroke-width="1.3" stroke-linecap="round"/>
<circle cx="453.5" cy="150.4" r="1.7" fill="#1f74d4"/>
<line x1="512.4" y1="184.4" x2="512.4" y2="197.25" stroke="#1f74d4" stroke-width="1.15"/>
<line x1="512.1" y1="184.4" x2="512.6999999999999" y2="184.4" stroke="#1f74d4" stroke-width="1.3" stroke-linecap="round"/>
<line x1="512.1" y1="197.25" x2="512.6999999999999" y2="197.25" stroke="#1f74d4" stroke-width="1.3" stroke-linecap="round"/>
<circle cx="512.4" cy="191" r="1.7" fill="#1f74d4"/>
<text x="0" y="0" font-size="59.472" text-anchor="middle" fill="#1e1e1e" stroke="#1e1e1e" stroke-width="1.040" transform="translate(531.10 138.08) scale(0.10593 0.12500)">Age</text>
<text x="0" y="0" font-size="59.472" text-anchor="middle" fill="#1e1e1e" stroke="#1e1e1e" stroke-width="1.040" transform="translate(531.10 145.18) scale(0.10593 0.12500)">(95% CI)</text>
<path d="M519.1 151.5 L522 149.6 L524.9 151.5 L522 153.4 Z" fill="#1f74d4"/>
<text x="0" y="0" font-size="59.472" text-anchor="start" fill="#1e1e1e" stroke="#1e1e1e" stroke-width="1.040" transform="translate(528.90 154.18) scale(0.10593 0.12500)">13</text>
<path d="M519.1 158.1 L522 156.2 L524.9 158.1 L522 160.0 Z" fill="#8a8a8a"/>
<text x="0" y="0" font-size="59.472" text-anchor="start" fill="#1e1e1e" stroke="#1e1e1e" stroke-width="1.040" transform="translate(528.90 160.78) scale(0.10593 0.12500)">15</text>
<path d="M519.1 165.25 L522 163.35 L524.9 165.25 L522 167.15 Z" fill="#f2a516"/>
<text x="0" y="0" font-size="59.472" text-anchor="start" fill="#1e1e1e" stroke="#1e1e1e" stroke-width="1.040" transform="translate(528.90 167.93) scale(0.10593 0.12500)">17</text>
<line x1="23.75" y1="238.1" x2="23.75" y2="327.4" stroke="#484848" stroke-width="0.9"/>
<line x1="23.2" y1="327.4" x2="139" y2="327.4" stroke="#484848" stroke-width="0.9"/>
<line x1="22.25" y1="242.1" x2="23.75" y2="242.1" stroke="#111" stroke-width="0.9"/>
<text x="0" y="0" font-size="49.088" text-anchor="end" fill="#1e1e1e" stroke="#1e1e1e" stroke-width="1.040" transform="translate(20.45 244.31) scale(0.10593 0.12500)">75</text>
<line x1="22.25" y1="258.4" x2="23.75" y2="258.4" stroke="#111" stroke-width="0.9"/>
<text x="0" y="0" font-size="49.088" text-anchor="end" fill="#1e1e1e" stroke="#1e1e1e" stroke-width="1.040" transform="translate(20.45 260.61) scale(0.10593 0.12500)">70</text>
<line x1="22.25" y1="274.75" x2="23.75" y2="274.75" stroke="#111" stroke-width="0.9"/>
<text x="0" y="0" font-size="49.088" text-anchor="end" fill="#1e1e1e" stroke="#1e1e1e" stroke-width="1.040" transform="translate(20.45 276.96) scale(0.10593 0.12500)">65</text>
<line x1="22.25" y1="291" x2="23.75" y2="291" stroke="#111" stroke-width="0.9"/>
<text x="0" y="0" font-size="49.088" text-anchor="end" fill="#1e1e1e" stroke="#1e1e1e" stroke-width="1.040" transform="translate(20.45 293.21) scale(0.10593 0.12500)">60</text>
<line x1="22.25" y1="307.3" x2="23.75" y2="307.3" stroke="#111" stroke-width="0.9"/>
<text x="0" y="0" font-size="49.088" text-anchor="end" fill="#1e1e1e" stroke="#1e1e1e" stroke-width="1.040" transform="translate(20.45 309.51) scale(0.10593 0.12500)">55</text>
<line x1="22.25" y1="323.5" x2="23.75" y2="323.5" stroke="#111" stroke-width="0.9"/>
<text x="0" y="0" font-size="49.088" text-anchor="end" fill="#1e1e1e" stroke="#1e1e1e" stroke-width="1.040" transform="translate(20.45 325.71) scale(0.10593 0.12500)">50</text>
<line x1="44" y1="327.4" x2="44" y2="329.0" stroke="#484848" stroke-width="0.8"/>
<text x="0" y="0" font-size="47.200" text-anchor="middle" fill="#1e1e1e" stroke="#1e1e1e" stroke-width="1.040" transform="translate(44.00 335.82) scale(0.10593 0.12500)">Thalassemia</text>
<line x1="120.6" y1="327.4" x2="120.6" y2="329.0" stroke="#484848" stroke-width="0.8"/>
<text x="0" y="0" font-size="47.200" text-anchor="middle" fill="#1e1e1e" stroke="#1e1e1e" stroke-width="1.040" transform="translate(120.60 335.82) scale(0.10593 0.12500)">Control</text>
<text x="0" y="0" font-size="59.189" text-anchor="middle" fill="#1e1e1e" stroke="#1e1e1e" stroke-width="1.040" transform="translate(11.34 283.00) rotate(-90) scale(0.10593 0.12500)">Panic Disorder</text>
<line x1="44.4" y1="265.6" x2="120.6" y2="312.5" stroke="#000" stroke-width="1.9"/>
<line x1="44.4" y1="257.5" x2="44.4" y2="274" stroke="#222" stroke-width="0.85"/>
<line x1="40.699999999999996" y1="257.5" x2="48.1" y2="257.5" stroke="#1a1a1a" stroke-width="1.25"/>
<line x1="40.699999999999996" y1="274" x2="48.1" y2="274" stroke="#1a1a1a" stroke-width="1.25"/>
<circle cx="44.4" cy="265.6" r="2.0" fill="#fff" stroke="#222" stroke-width="0.7"/>
<line x1="120.6" y1="306.5" x2="120.6" y2="318.5" stroke="#222" stroke-width="0.85"/>
<line x1="116.89999999999999" y1="306.5" x2="124.3" y2="306.5" stroke="#1a1a1a" stroke-width="1.25"/>
<line x1="116.89999999999999" y1="318.5" x2="124.3" y2="318.5" stroke="#1a1a1a" stroke-width="1.25"/>
<circle cx="120.6" cy="312.5" r="2.0" fill="#fff" stroke="#222" stroke-width="0.7"/>
<line x1="328.75" y1="240" x2="328.75" y2="328.9" stroke="#484848" stroke-width="0.9"/>
<line x1="328.2" y1="328.9" x2="426.9" y2="328.9" stroke="#484848" stroke-width="0.9"/>
<line x1="327.25" y1="255" x2="328.75" y2="255" stroke="#111" stroke-width="0.9"/>
<text x="0" y="0" font-size="49.088" text-anchor="end" fill="#1e1e1e" stroke="#1e1e1e" stroke-width="1.040" transform="translate(325.45 257.21) scale(0.10593 0.12500)">70</text>
<line x1="327.25" y1="278.1" x2="328.75" y2="278.1" stroke="#111" stroke-width="0.9"/>
<text x="0" y="0" font-size="49.088" text-anchor="end" fill="#1e1e1e" stroke="#1e1e1e" stroke-width="1.040" transform="translate(325.45 280.31) scale(0.10593 0.12500)">60</text>
<line x1="327.25" y1="301.5" x2="328.75" y2="301.5" stroke="#111" stroke-width="0.9"/>
<text x="0" y="0" font-size="49.088" text-anchor="end" fill="#1e1e1e" stroke="#1e1e1e" stroke-width="1.040" transform="translate(325.45 303.71) scale(0.10593 0.12500)">50</text>
<line x1="327.25" y1="324.75" x2="328.75" y2="324.75" stroke="#111" stroke-width="0.9"/>
<text x="0" y="0" font-size="49.088" text-anchor="end" fill="#1e1e1e" stroke="#1e1e1e" stroke-width="1.040" transform="translate(325.45 326.96) scale(0.10593 0.12500)">40</text>
<line x1="348.5" y1="328.9" x2="348.5" y2="330.5" stroke="#484848" stroke-width="0.8"/>
<text x="0" y="0" font-size="47.200" text-anchor="middle" fill="#1e1e1e" stroke="#1e1e1e" stroke-width="1.040" transform="translate(348.50 337.32) scale(0.10593 0.12500)">Thalassemia</text>
<line x1="407.75" y1="328.9" x2="407.75" y2="330.5" stroke="#484848" stroke-width="0.8"/>
<text x="0" y="0" font-size="47.200" text-anchor="middle" fill="#1e1e1e" stroke="#1e1e1e" stroke-width="1.040" transform="translate(407.75 337.32) scale(0.10593 0.12500)">Control</text>
<text x="0" y="0" font-size="60.416" text-anchor="middle" fill="#3a3a3a" font-style="italic" transform="translate(315.59 283.20) rotate(-90) scale(0.10593 0.12500)">Total Anxiety</text>
<line x1="352.5" y1="283.5" x2="411.5" y2="311.25" stroke="#f2a516" stroke-width="0.95"/>
<line x1="348.5" y1="279.75" x2="407.75" y2="306.9" stroke="#8a8a8a" stroke-width="0.95"/>
<line x1="344.6" y1="275.6" x2="404" y2="302.9" stroke="#1f74d4" stroke-width="0.95"/>
<line x1="352.5" y1="274.75" x2="352.5" y2="292.25" stroke="#f2a516" stroke-width="1.15"/>
<line x1="352.2" y1="274.75" x2="352.8" y2="274.75" stroke="#f2a516" stroke-width="1.3" stroke-linecap="round"/>
<line x1="352.2" y1="292.25" x2="352.8" y2="292.25" stroke="#f2a516" stroke-width="1.3" stroke-linecap="round"/>
<circle cx="352.5" cy="283.5" r="1.7" fill="#f2a516"/>
<line x1="411.5" y1="304.6" x2="411.5" y2="318.1" stroke="#f2a516" stroke-width="1.15"/>
<line x1="411.2" y1="304.6" x2="411.8" y2="304.6" stroke="#f2a516" stroke-width="1.3" stroke-linecap="round"/>
<line x1="411.2" y1="318.1" x2="411.8" y2="318.1" stroke="#f2a516" stroke-width="1.3" stroke-linecap="round"/>
<circle cx="411.5" cy="311.25" r="1.7" fill="#f2a516"/>
<line x1="348.5" y1="271" x2="348.5" y2="288.1" stroke="#8a8a8a" stroke-width="1.15"/>
<line x1="348.2" y1="271" x2="348.8" y2="271" stroke="#8a8a8a" stroke-width="1.3" stroke-linecap="round"/>
<line x1="348.2" y1="288.1" x2="348.8" y2="288.1" stroke="#8a8a8a" stroke-width="1.3" stroke-linecap="round"/>
<circle cx="348.5" cy="279.75" r="1.7" fill="#8a8a8a"/>
<line x1="407.75" y1="301.5" x2="407.75" y2="312.75" stroke="#8a8a8a" stroke-width="1.15"/>
<line x1="407.45" y1="301.5" x2="408.05" y2="301.5" stroke="#8a8a8a" stroke-width="1.3" stroke-linecap="round"/>
<line x1="407.45" y1="312.75" x2="408.05" y2="312.75" stroke="#8a8a8a" stroke-width="1.3" stroke-linecap="round"/>
<circle cx="407.75" cy="306.9" r="1.7" fill="#8a8a8a"/>
<line x1="344.6" y1="266.5" x2="344.6" y2="284.6" stroke="#1f74d4" stroke-width="1.15"/>
<line x1="344.3" y1="266.5" x2="344.90000000000003" y2="266.5" stroke="#1f74d4" stroke-width="1.3" stroke-linecap="round"/>
<line x1="344.3" y1="284.6" x2="344.90000000000003" y2="284.6" stroke="#1f74d4" stroke-width="1.3" stroke-linecap="round"/>
<circle cx="344.6" cy="275.6" r="1.7" fill="#1f74d4"/>
<line x1="404" y1="296.9" x2="404" y2="309.4" stroke="#1f74d4" stroke-width="1.15"/>
<line x1="403.7" y1="296.9" x2="404.3" y2="296.9" stroke="#1f74d4" stroke-width="1.3" stroke-linecap="round"/>
<line x1="403.7" y1="309.4" x2="404.3" y2="309.4" stroke="#1f74d4" stroke-width="1.3" stroke-linecap="round"/>
<circle cx="404" cy="302.9" r="1.7" fill="#1f74d4"/>
<line x1="433.3" y1="240" x2="433.3" y2="329.5" stroke="#484848" stroke-width="0.9"/>
<line x1="432.75" y1="329.5" x2="541.4" y2="329.5" stroke="#484848" stroke-width="0.9"/>
<line x1="468.8" y1="329.5" x2="468.8" y2="331.1" stroke="#484848" stroke-width="0.8"/>
<text x="0" y="0" font-size="47.200" text-anchor="middle" fill="#1e1e1e" stroke="#1e1e1e" stroke-width="1.040" transform="translate(468.80 337.92) scale(0.10593 0.12500)">Thalassemia</text>
<line x1="528" y1="329.5" x2="528" y2="331.1" stroke="#484848" stroke-width="0.8"/>
<text x="0" y="0" font-size="47.200" text-anchor="middle" fill="#1e1e1e" stroke="#1e1e1e" stroke-width="1.040" transform="translate(528.00 337.92) scale(0.10593 0.12500)">Control</text>
<line x1="472.75" y1="265.4" x2="532" y2="307.1" stroke="#f2a516" stroke-width="1.15"/>
<line x1="469" y1="261.25" x2="528" y2="302.9" stroke="#8a8a8a" stroke-width="1.15"/>
<line x1="465" y1="257.25" x2="524.1" y2="299.4" stroke="#1f74d4" stroke-width="1.15"/>
<line x1="472.75" y1="257.25" x2="472.75" y2="273.75" stroke="#f2a516" stroke-width="1.15"/>
<line x1="472.45" y1="257.25" x2="473.05" y2="257.25" stroke="#f2a516" stroke-width="1.3" stroke-linecap="round"/>
<line x1="472.45" y1="273.75" x2="473.05" y2="273.75" stroke="#f2a516" stroke-width="1.3" stroke-linecap="round"/>
<circle cx="472.75" cy="265.4" r="1.7" fill="#f2a516"/>
<line x1="532" y1="300.6" x2="532" y2="314.4" stroke="#f2a516" stroke-width="1.15"/>
<line x1="531.7" y1="300.6" x2="532.3" y2="300.6" stroke="#f2a516" stroke-width="1.3" stroke-linecap="round"/>
<line x1="531.7" y1="314.4" x2="532.3" y2="314.4" stroke="#f2a516" stroke-width="1.3" stroke-linecap="round"/>
<circle cx="532" cy="307.1" r="1.7" fill="#f2a516"/>
<line x1="469" y1="253.5" x2="469" y2="269.4" stroke="#8a8a8a" stroke-width="1.15"/>
<line x1="468.7" y1="253.5" x2="469.3" y2="253.5" stroke="#8a8a8a" stroke-width="1.3" stroke-linecap="round"/>
<line x1="468.7" y1="269.4" x2="469.3" y2="269.4" stroke="#8a8a8a" stroke-width="1.3" stroke-linecap="round"/>
<circle cx="469" cy="261.25" r="1.7" fill="#8a8a8a"/>
<line x1="528" y1="297.25" x2="528" y2="309" stroke="#8a8a8a" stroke-width="1.15"/>
<line x1="527.7" y1="297.25" x2="528.3" y2="297.25" stroke="#8a8a8a" stroke-width="1.3" stroke-linecap="round"/>
<line x1="527.7" y1="309" x2="528.3" y2="309" stroke="#8a8a8a" stroke-width="1.3" stroke-linecap="round"/>
<circle cx="528" cy="302.9" r="1.7" fill="#8a8a8a"/>
<line x1="465" y1="248.5" x2="465" y2="265.4" stroke="#1f74d4" stroke-width="1.15"/>
<line x1="464.7" y1="248.5" x2="465.3" y2="248.5" stroke="#1f74d4" stroke-width="1.3" stroke-linecap="round"/>
<line x1="464.7" y1="265.4" x2="465.3" y2="265.4" stroke="#1f74d4" stroke-width="1.3" stroke-linecap="round"/>
<circle cx="465" cy="257.25" r="1.7" fill="#1f74d4"/>
<line x1="524.1" y1="292.5" x2="524.1" y2="305.6" stroke="#1f74d4" stroke-width="1.15"/>
<line x1="523.8000000000001" y1="292.5" x2="524.4" y2="292.5" stroke="#1f74d4" stroke-width="1.3" stroke-linecap="round"/>
<line x1="523.8000000000001" y1="305.6" x2="524.4" y2="305.6" stroke="#1f74d4" stroke-width="1.3" stroke-linecap="round"/>
<circle cx="524.1" cy="299.4" r="1.7" fill="#1f74d4"/>
<text x="0" y="0" font-size="59.472" text-anchor="middle" fill="#1e1e1e" stroke="#1e1e1e" stroke-width="1.040" transform="translate(531.75 245.18) scale(0.10593 0.12500)">Age</text>
<text x="0" y="0" font-size="59.472" text-anchor="middle" fill="#1e1e1e" stroke="#1e1e1e" stroke-width="1.040" transform="translate(531.75 252.08) scale(0.10593 0.12500)">(95% CI)</text>
<path d="M519.7 258.4 L522.6 256.5 L525.5 258.4 L522.6 260.29999999999995 Z" fill="#1f74d4"/>
<text x="0" y="0" font-size="59.472" text-anchor="start" fill="#1e1e1e" stroke="#1e1e1e" stroke-width="1.040" transform="translate(529.50 261.08) scale(0.10593 0.12500)">13</text>
<path d="M519.7 265 L522.6 263.1 L525.5 265 L522.6 266.9 Z" fill="#8a8a8a"/>
<text x="0" y="0" font-size="59.472" text-anchor="start" fill="#1e1e1e" stroke="#1e1e1e" stroke-width="1.040" transform="translate(529.50 267.68) scale(0.10593 0.12500)">15</text>
<path d="M519.7 271.9 L522.6 270.0 L525.5 271.9 L522.6 273.79999999999995 Z" fill="#f2a516"/>
<text x="0" y="0" font-size="59.472" text-anchor="start" fill="#1e1e1e" stroke="#1e1e1e" stroke-width="1.040" transform="translate(529.50 274.58) scale(0.10593 0.12500)">17</text>
</svg>
</body></html>
